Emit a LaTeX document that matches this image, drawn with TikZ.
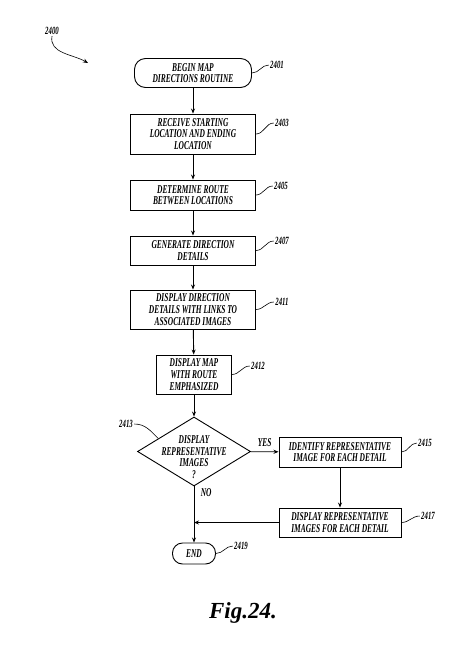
\documentclass[tikz,border=0pt]{standalone}
\usepackage{fontspec}
\setmainfont{Liberation Serif}
\newfontfamily\flowfont[FakeStretch=0.62]{Liberation Serif}
\usetikzlibrary{shapes.geometric,arrows.meta}

\tikzset{
  every path/.style={line width=0.9pt},
  flowtext/.style={font=\flowfont\bfseries\itshape\fontsize{12}{11.6}\selectfont, align=center},
  procbox/.style={draw, flowtext, inner sep=0pt},
  termbox/.style={draw, flowtext, rounded corners=11pt, inner sep=0pt},
  decbox/.style={draw, diamond, inner sep=0pt},
  refnum/.style={font=\flowfont\bfseries\itshape\fontsize{11}{12}\selectfont, inner sep=1pt},
  flow/.style={-{Stealth[length=5pt,width=4pt]}},
  leader/.style={line width=0.6pt}
}

\begin{document}
\begin{tikzpicture}[x=1pt,y=-1pt]
  \useasboundingbox (0,0) rectangle (474,646);

  % steps of the routine
  \node[termbox, minimum width=117pt, minimum height=29pt] (s2401) at (193,73) {BEGIN MAP\\DIRECTIONS ROUTINE};
  \node[procbox, minimum width=125pt, minimum height=40pt] (s2403) at (193,134) {RECEIVE STARTING\\LOCATION AND ENDING\\LOCATION};
  \node[procbox, minimum width=125pt, minimum height=30pt] (s2405) at (193,195) {DETERMINE ROUTE\\BETWEEN LOCATIONS};
  \node[procbox, minimum width=125pt, minimum height=29pt] (s2407) at (193,250.5) {GENERATE DIRECTION\\DETAILS};
  \node[procbox, minimum width=125pt, minimum height=39pt] (s2411) at (193,309.5) {DISPLAY DIRECTION\\DETAILS WITH LINKS TO\\ASSOCIATED IMAGES};
  \node[procbox, minimum width=75pt, minimum height=39pt] (s2412) at (194,374.5) {DISPLAY MAP\\WITH ROUTE\\EMPHASIZED};
  \node[decbox, minimum width=113pt, minimum height=69pt] (s2413) at (194,451.5) {};
  \node[flowtext] (q2413) at (194,457) {DISPLAY\\REPRESENTATIVE\\IMAGES\\?};
  \node[procbox, minimum width=122pt, minimum height=30pt] (s2415) at (340,452) {IDENTIFY REPRESENTATIVE\\IMAGE FOR EACH DETAIL};
  \node[procbox, minimum width=122pt, minimum height=29pt] (s2417) at (340,522.5) {DISPLAY REPRESENTATIVE\\IMAGES FOR EACH DETAIL};
  \node[termbox, rounded corners=10pt, minimum width=43pt, minimum height=21pt] (s2419) at (194,553.5) {END};
  \coordinate (join) at (194,522.5);

  % reference numbers
  \node[refnum] (n2400) at (52,31) {2400};
  \coordinate (a2400) at (88,63);
  \node[refnum] (n2401) at (277,65) {2401};
  \node[refnum] (n2403) at (282,123) {2403};
  \node[refnum] (n2405) at (281,186) {2405};
  \node[refnum] (n2407) at (282,241) {2407};
  \node[refnum] (n2411) at (282,302) {2411};
  \node[refnum] (n2412) at (258,366) {2412};
  \node[refnum] (n2413) at (126,424) {2413};
  \node[refnum] (n2415) at (425,443) {2415};
  \node[refnum] (n2417) at (428,516) {2417};
  \node[refnum] (n2419) at (241,546) {2419};

  % connectors
  \draw[flow] (s2401) -- (s2403);
  \draw[flow] (s2403) -- (s2405);
  \draw[flow] (s2405) -- (s2407);
  \draw[flow] (s2407) -- (s2411);
  \draw[flow] (s2411) -- (s2412);
  \draw[flow] (s2412) -- (s2413);
  \draw[flow] (s2413) -- node[flowtext, above=1pt] {YES} (s2415);
  \draw[flow] (s2415) -- (s2417);
  \draw[flow] (s2417) -- (join);
  \draw[flow] (s2413) -- (s2419);
  \node[flowtext, anchor=west] (no2413) at (197,493) {NO};

  % leaders
  \draw[flow, line width=0.6pt] (n2400.south) to[out=-100,in=150] (a2400);
  \draw[leader] (s2401.east) to[out=0,in=180] (n2401.west);
  \draw[leader] (s2403.east) to[out=0,in=180] (n2403.west);
  \draw[leader] (s2405.east) to[out=0,in=180] (n2405.west);
  \draw[leader] (s2407.east) to[out=0,in=180] (n2407.west);
  \draw[leader] (s2411.east) to[out=0,in=180] (n2411.west);
  \draw[leader] (s2412.east) to[out=0,in=180] (n2412.west);
  \draw[leader] (n2413.east) to[out=0,in=135] (s2413.160);
  \draw[leader] (s2415.east) to[out=0,in=180] (n2415.west);
  \draw[leader] (s2417.east) to[out=0,in=180] (n2417.west);
  \draw[leader] (s2419.east) to[out=0,in=180] (n2419.west);

  \node[font=\bfseries\itshape\fontsize{23}{26}\selectfont] (fig) at (243,613) {Fig.24.};
\end{tikzpicture}
\end{document}
